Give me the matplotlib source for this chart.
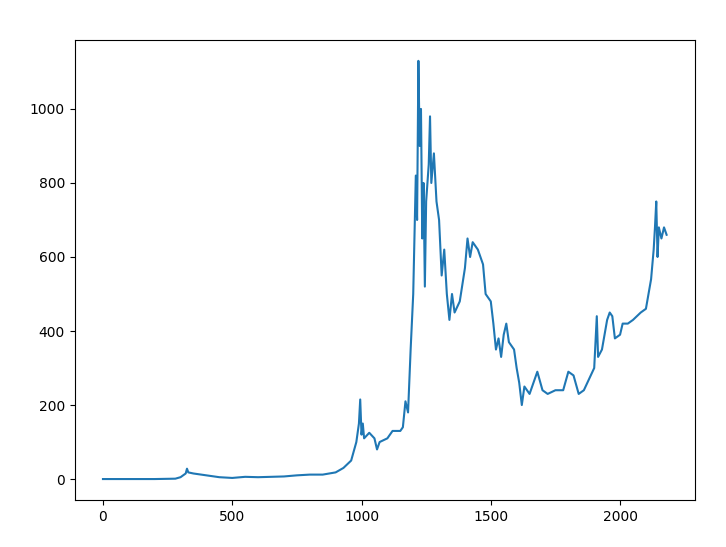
import matplotlib
matplotlib.use("Agg")
import matplotlib.pyplot as plt

day = [0,100,200,280,300,320,325,330,350,400,450,500,550,600,700,750,800,850,900,930,960,980,990,995,1000,1005,1010,1030,1050,1060,1070,1100,1120,1150,1160,1170,1180,1190,1200,1210,1215,1220,1225,1230,1235,1240,1245,1250,1260,1265,1270,1280,1290,1300,1310,1320,1330,1340,1350,1360,1380,1400,1410,1420,1430,1450,1470,1480,1500,1510,1520,1530,1540,1550,1560,1570,1590,1600,1610,1620,1630,1650,1670,1680,1700,1720,1750,1780,1800,1820,1840,1860,1880,1900,1910,1915,1930,1950,1960,1970,1980,2000,2010,2030,2050,2080,2100,2120,2130,2135,2140,2145,2150,2160,2170,2180]
price = [0,0,0,1,5,15,28,18,15,10,5,3,6,5,7,10,12,12,18,30,50,100,150,215,120,150,110,125,110,80,100,110,130,130,140,210,180,350,500,820,700,1130,900,1000,650,800,520,750,850,980,800,880,750,700,550,620,500,430,500,450,480,570,650,600,640,620,580,500,480,420,350,380,330,390,420,370,350,300,260,200,250,230,270,290,240,230,240,240,290,280,230,240,270,300,440,330,350,430,450,440,380,390,420,420,430,450,460,540,620,680,750,600,680,650,680,660]

fig = plt.figure(figsize=(7.26, 5.47), dpi=100)
ax = fig.add_subplot(111)
fig.subplots_adjust(left=0.103, right=0.957, top=0.927, bottom=0.086)
ax.plot(day, price, color="#1f77b4")
fig.savefig("out.png", dpi=100)
